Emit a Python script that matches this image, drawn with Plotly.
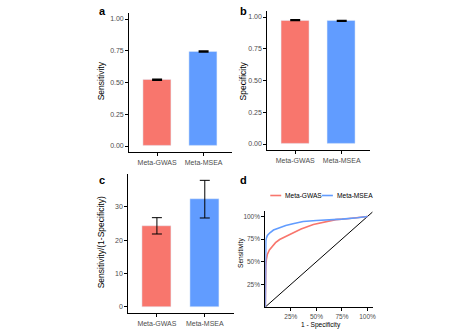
import plotly.graph_objects as go

W, H = 474, 330

categories = ["Meta-GWAS", "Meta-MSEA"]
colors = ["#F8766D", "#619CFF"]

sensitivity = [0.522, 0.745]
sensitivity_err = [0.004, 0.004]
specificity = [0.975, 0.970]
specificity_err = [0.003, 0.003]
ratio = [24.3, 32.3]
ratio_err_up = [2.5, 5.7]
ratio_err_down = [2.4, 5.6]

prop_ticks = [0.0, 0.25, 0.5, 0.75, 1.0]
ratio_ticks = [0, 10, 20, 30]
roc_ticks = [0.25, 0.5, 0.75, 1.0]

gwas_fpr = [0, 0, 0.005, 0.01, 0.02, 0.04, 0.06, 0.10, 0.14, 0.20, 0.27, 0.35, 0.47, 0.60, 0.69, 0.80, 0.90, 1.0]
gwas_tpr = [0, 0.30, 0.45, 0.52, 0.58, 0.63, 0.66, 0.71, 0.745, 0.78, 0.815, 0.86, 0.91, 0.945, 0.965, 0.975, 0.99, 1.0]
msea_fpr = [0, 0, 0.005, 0.01, 0.02, 0.045, 0.08, 0.14, 0.20, 0.27, 0.37, 0.50, 0.60, 0.75, 0.90, 1.0]
msea_tpr = [0, 0.68, 0.73, 0.76, 0.79, 0.82, 0.85, 0.875, 0.90, 0.92, 0.945, 0.955, 0.96, 0.97, 0.985, 1.0]
diag = [0, 1.05]

FONT = "Liberation Sans, Arial, sans-serif"
TICKCOL = "#4D4D4D"


def px(x):
    return x / W


def py(y):
    return 1 - y / H


fig = go.Figure()

# Panel a
fig.add_trace(go.Bar(x=categories, y=sensitivity, marker_color=colors, width=0.6,
                     error_y=dict(type="data", array=sensitivity_err, color="black", thickness=1.5, width=5),
                     xaxis="x", yaxis="y", showlegend=False))
# Panel b
fig.add_trace(go.Bar(x=categories, y=specificity, marker_color=colors, width=0.6,
                     error_y=dict(type="data", array=specificity_err, color="black", thickness=1.5, width=5),
                     xaxis="x2", yaxis="y2", showlegend=False))
# Panel c
fig.add_trace(go.Bar(x=categories, y=ratio, marker_color=colors, width=0.6,
                     error_y=dict(type="data", symmetric=False, array=ratio_err_up, arrayminus=ratio_err_down,
                                  color="black", thickness=1, width=5),
                     xaxis="x3", yaxis="y3", showlegend=False))
# Panel d
fig.add_trace(go.Scatter(x=diag, y=diag, mode="lines", line=dict(color="black", width=1),
                         xaxis="x4", yaxis="y4", showlegend=False))
fig.add_trace(go.Scatter(x=gwas_fpr, y=gwas_tpr, mode="lines", name=categories[0],
                         line=dict(color=colors[0], width=1.6), xaxis="x4", yaxis="y4", showlegend=False))
fig.add_trace(go.Scatter(x=msea_fpr, y=msea_tpr, mode="lines", name=categories[1],
                         line=dict(color=colors[1], width=1.6), xaxis="x4", yaxis="y4", showlegend=False))

axis_common = dict(showline=True, linecolor="black", linewidth=1, ticks="outside", ticklen=3,
                   tickcolor="black", tickwidth=1, showgrid=False, zeroline=False,
                   tickfont=dict(family=FONT, size=7, color=TICKCOL), fixedrange=True)

cat_x = dict(axis_common, range=[-0.6, 1.6], type="category")

fig.update_layout(
    width=W, height=H, margin=dict(l=0, r=0, t=0, b=0),
    paper_bgcolor="white", plot_bgcolor="white", bargap=0,
    xaxis=dict(cat_x, domain=[px(130), px(233)], anchor="y"),
    yaxis=dict(axis_common, domain=[py(152.35), py(12.65)], range=[-0.05, 1.05],
               tickvals=prop_ticks, tickformat=".2f", anchor="x"),
    xaxis2=dict(cat_x, domain=[px(269), px(372)], anchor="y2"),
    yaxis2=dict(axis_common, domain=[py(150.35), py(10.65)], range=[-0.05, 1.05],
                tickvals=prop_ticks, tickformat=".2f", anchor="x2"),
    xaxis3=dict(cat_x, domain=[px(129), px(235)], anchor="y3"),
    yaxis3=dict(axis_common, domain=[py(313.3), py(174)], range=[-1.9, 39.9],
                tickvals=ratio_ticks, anchor="x3"),
    xaxis4=dict(axis_common, domain=[px(267), px(375)], range=[0, 1.05],
                tickvals=roc_ticks, tickformat=".0%", anchor="y4",
                tickfont=dict(family=FONT, size=6.5, color=TICKCOL)),
    yaxis4=dict(axis_common, domain=[py(307), py(211)], range=[0, 1.06],
                tickvals=roc_ticks, tickformat=".0%", anchor="x4",
                tickfont=dict(family=FONT, size=6.5, color=TICKCOL)),
)

ann = []
# Panel letters
for letter, x, y in [("a", 103, 11), ("b", 245, 11), ("c", 103, 180), ("d", 245, 180)]:
    ann.append(dict(text="<b>%s</b>" % letter, x=px(x), y=py(y), xref="paper", yref="paper",
                    showarrow=False, font=dict(family=FONT, size=11, color="black"),
                    xanchor="center", yanchor="middle"))
# Y titles
for t, x, y, s in [("Sensitivity", 102, 81, 8.5), ("Specificity", 245, 81, 8.5),
                   ("Sensitivity/(1-Specificity)", 102, 242, 8.5), ("Sensitivity", 242.5, 253, 6.6)]:
    ann.append(dict(text=t, x=px(x), y=py(y), xref="paper", yref="paper", textangle=-90,
                    showarrow=False, font=dict(family=FONT, size=s, color="black"),
                    xanchor="center", yanchor="middle"))
# X title of d
ann.append(dict(text="1 - Specificity", x=px(323), y=py(324.5), xref="paper", yref="paper",
                showarrow=False, font=dict(family=FONT, size=6.6, color="black"),
                xanchor="center", yanchor="middle"))

# Manual legend for panel d
shapes = []
leg_y = 195.5
for name, col, x0 in [(categories[0], colors[0], 272), (categories[1], colors[1], 324)]:
    shapes.append(dict(type="line", xref="paper", yref="paper", x0=px(x0), x1=px(x0 + 11),
                       y0=py(leg_y), y1=py(leg_y), line=dict(color=col, width=1.6)))
    ann.append(dict(text=name, x=px(x0 + 13), y=py(leg_y), xref="paper", yref="paper",
                    showarrow=False, font=dict(family=FONT, size=6.6, color="black"),
                    xanchor="left", yanchor="middle"))

fig.update_layout(annotations=ann, shapes=shapes)

fig.write_html("out.html")
